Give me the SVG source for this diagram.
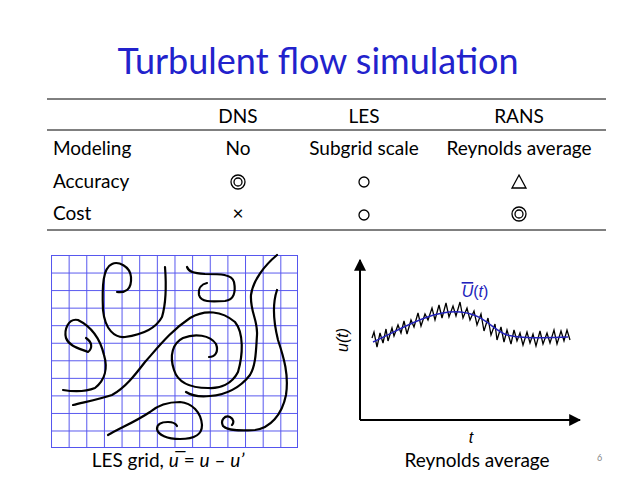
<svg xmlns="http://www.w3.org/2000/svg" width="638" height="478" viewBox="0 0 638 478">
<style>
text{font-family:Lato,"Open Sans","Liberation Sans",sans-serif;fill:#000}
.t{font-size:19px}
.c{text-anchor:middle}
.g{stroke:#5555ee;stroke-width:1}
.v{fill:none;stroke:#000;stroke-width:2.2;stroke-linecap:round;stroke-linejoin:round}
.ax{stroke:#000;stroke-width:2;fill:none}
.ar{font-family:"Liberation Sans",Arial,sans-serif}
</style>
<defs>
<pattern id="grid" x="51" y="255" width="17.64" height="17.55" patternUnits="userSpaceOnUse">
<path d="M0.5 0V17.55M0 0.5H17.64" class="g"/>
</pattern>
<marker id="arr" viewBox="0 0 10 10" refX="9" refY="5" markerWidth="6" markerHeight="6" orient="auto" markerUnits="strokeWidth"><path d="M0 0L10 5L0 10z" fill="#000"/></marker>
</defs>
<g id="title"><text x="318" y="74" class="c" style="font-size:36px;fill:#2222cc">Turbulent flow simulation</text></g>
<g id="table">
<line x1="47" y1="99" x2="606" y2="99" stroke="#000" stroke-width="1"/>
<line x1="47" y1="130" x2="606" y2="130" stroke="#000" stroke-width="1"/>
<line x1="47" y1="230" x2="606" y2="230" stroke="#000" stroke-width="1"/>
<text x="238" y="123" class="t c">DNS</text>
<text x="364" y="123" class="t c">LES</text>
<text x="519" y="123" class="t c">RANS</text>
<text x="53" y="155" class="t">Modeling</text>
<text x="238" y="155" class="t c">No</text>
<text x="364" y="155" class="t c">Subgrid scale</text>
<text x="519" y="155" class="t c">Reynolds average</text>
<text x="53" y="188" class="t">Accuracy</text>
<circle cx="238" cy="182" r="7" fill="none" stroke="#000" stroke-width="1.3"/><circle cx="238" cy="182" r="4" fill="none" stroke="#000" stroke-width="1.3"/>
<circle cx="364" cy="182" r="5" fill="none" stroke="#000" stroke-width="1.3"/>
<path d="M519 175L526 188H512Z" fill="none" stroke="#000" stroke-width="1.3"/>
<text x="53" y="220" class="t">Cost</text>
<text x="238" y="220" class="t c">×</text>
<circle cx="364" cy="215" r="5" fill="none" stroke="#000" stroke-width="1.3"/>
<circle cx="519" cy="214" r="7" fill="none" stroke="#000" stroke-width="1.3"/><circle cx="519" cy="214" r="4" fill="none" stroke="#000" stroke-width="1.3"/>
</g>
<g id="les">
<rect x="51" y="255" width="247" height="193" fill="url(#grid)"/>
<path d="M51 447.5H298M297.5 255V448" class="g"/>
<path class="v" d="M117 292C125 293 132 290 131 277C130 266 118 261 112 264C103 268 102 285 103 310C105 330 115 338 125 337C140 335 155 330 162 317C167 300 166 280 165 267"/>
<path class="v" d="M187 267C189 272 193 273 205 274C220 274 232 274 234 282C236 292 234 300 225 301C210 302 201 302 199 295C198 288 202 284 207 283"/>
<path class="v" d="M63 390C75 392 85 392 95 388C105 380 108 368 104 355C100 338 90 326 78 320C68 318 64 330 66 338C69 346 78 348 88 352C93 348 92 342 86 338"/>
<path class="v" d="M73 405C85 402 100 399 112 395C125 388 135 375 145 362C160 345 172 330 190 318C205 309 222 311 235 322C244 333 243 355 238 372C232 384 220 389 208 388C190 388 178 383 174 370C169 355 173 343 183 338C195 333 210 335 216 344C219 352 215 357 209 357"/>
<path class="v" d="M277 255C265 265 253 280 251 295C250 312 258 320 257 335C256 350 256 365 250 375C240 388 225 395 210 396C200 397 192 396 186 392"/>
<path class="v" d="M277 290C272 305 273 320 278 340C284 358 289 375 286 395C282 415 270 428 255 430C240 431 228 431 223 426C220 420 225 415 230 417C234 419 234 423 232 425"/>
<path class="v" d="M108 435C120 428 135 422 150 412C158 405 168 402 180 402C192 403 201 412 202 425C202 435 195 439 180 439C167 439 158 435 157 429C157 423 163 422 168 422C173 422 176 424 177 426"/>
<text x="168" y="467" class="t c" style="font-size:19px">LES grid, <tspan font-style="italic">u&#773;</tspan> = <tspan font-style="italic">u</tspan> – <tspan font-style="italic">u’</tspan></text>
</g>
<g id="reynolds">
<path class="ax" d="M360 420V260" marker-end="url(#arr)"/>
<path class="ax" d="M360 420H580" marker-end="url(#arr)"/>
<polyline fill="none" stroke="#000" stroke-width="1.3" points="372,338 374,332 377,347 380,333 383,343 386,329 388,341 392,328 394,336 398,325 401,333 404,321 407,334 411,320 414,327 418,313 421,326 425,314 428,320 432,308 435,320 439,305 442,318 446,303 449,317 453,306 456,316 460,302 463,318 467,308 470,320 474,311 477,325 481,314 484,331 488,318 491,335 495,324 497,340 501,327 504,342 507,330 511,344 514,330 517,341 520,333 523,345 527,332 530,343 533,334 536,346 540,331 543,344 547,333 550,343 554,330 557,344 561,331 564,341 567,330 570,340"/>
<path d="M373 342C400 330 430 310 460 312C485 314 492 330 507 335C525 339 550 338 568 337" fill="none" stroke="#2222bb" stroke-width="1.5"/>
<text x="348" y="340" class="ar" style="font-size:16px;font-style:italic" text-anchor="middle" transform="rotate(-90 348 340)">u(t)</text>
<text x="475" y="297" class="ar c" style="font-size:16px;fill:#2222bb"><tspan font-style="italic" text-decoration="overline">U</tspan>(<tspan font-style="italic">t</tspan>)</text>
<text x="471" y="443" class="ar c" style="font-size:16px;font-style:italic">t</text>
<text x="477" y="467" class="c" style="font-size:19px">Reynolds average</text>
</g>
<text x="597" y="461" style="font-size:9px;fill:#888">6</text>
</svg>
